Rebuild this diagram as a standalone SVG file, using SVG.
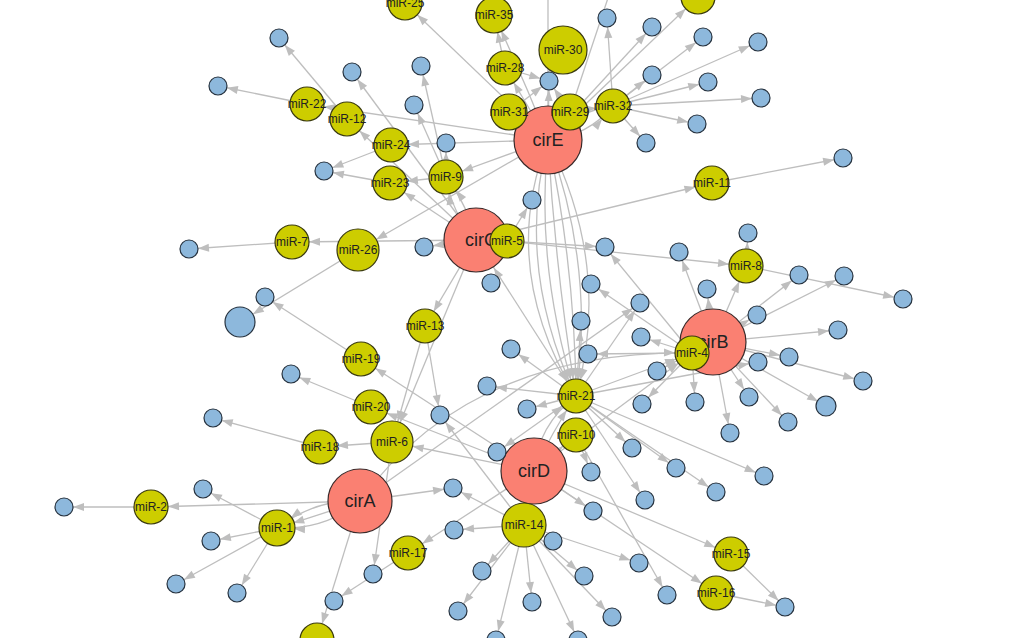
<svg xmlns="http://www.w3.org/2000/svg" width="1022" height="638" viewBox="0 0 1022 638">
<style>
.e{fill:none;stroke:#bebebe;stroke-width:1.3}
.eb{marker-end:url(#aB)}
.ebb{marker-end:url(#aBb)}
.ey{marker-end:url(#aY)}
.ey2{marker-end:url(#aY2)}
.er{marker-end:url(#aR)}
.r circle{fill:#fa8072;stroke:#3a2a2a;stroke-width:1.2}
.y circle{fill:#cdcd00;stroke:#3a3a10;stroke-width:1.2}
.b circle{fill:#8db8dc;stroke:#26323f;stroke-width:1.2}
text{font-family:"Liberation Sans",Arial,sans-serif;fill:#222;text-anchor:middle}
.r text{font-size:18px}
.y text{font-size:12px}
</style>
<defs>
<marker id="aB" markerUnits="userSpaceOnUse" markerWidth="1" markerHeight="1" orient="auto" overflow="visible"><path d="M-20,-4L-9,0L-20,4z" fill="#bebebe"/></marker>
<marker id="aBb" markerUnits="userSpaceOnUse" markerWidth="1" markerHeight="1" orient="auto" overflow="visible"><path d="M-26,-4L-15,0L-26,4z" fill="#bebebe"/></marker>
<marker id="aY" markerUnits="userSpaceOnUse" markerWidth="1" markerHeight="1" orient="auto" overflow="visible"><path d="M-28,-4L-17,0L-28,4z" fill="#bebebe"/></marker>
<marker id="aY2" markerUnits="userSpaceOnUse" markerWidth="1" markerHeight="1" orient="auto" overflow="visible"><path d="M-32,-4L-21,0L-32,4z" fill="#bebebe"/></marker>
<marker id="aR" markerUnits="userSpaceOnUse" markerWidth="1" markerHeight="1" orient="auto" overflow="visible"><path d="M-44,-4L-33,0L-44,4z" fill="#bebebe"/></marker>
</defs>
<g id="connectors" class="e">
<path class="eb" d="M307,104L218,86"/>
<path class="eb" d="M347,119L279,38"/>
<path class="eb" d="M476,240L352,72"/>
<path class="eb" d="M446,177L421,66"/>
<path class="eb" d="M446,177L414,105"/>
<path class="eb" d="M446,177L446,143"/>
<path class="eb" d="M391,145L324,171"/>
<path class="eb" d="M390,183L324,171"/>
<path class="eb" d="M548,140L549,81"/>
<path class="eb" d="M505,68L549,81"/>
<path class="eb" d="M509,112L549,81"/>
<path class="eb" d="M570,112L549,81"/>
<path class="eb" d="M613,106L607,18"/>
<path class="eb" d="M548,140L652,27"/>
<path class="eb" d="M613,106L703,37"/>
<path class="eb" d="M613,106L758,42"/>
<path class="eb" d="M613,106L652,75"/>
<path class="eb" d="M613,106L708,82"/>
<path class="eb" d="M613,106L761,98"/>
<path class="eb" d="M613,106L697,124"/>
<path class="eb" d="M613,106L646,143"/>
<path class="eb" d="M712,183L843,158"/>
<path class="eb" d="M507,241L532,200"/>
<path class="eb" d="M292,242L189,249"/>
<path class="eb" d="M476,240L424,247"/>
<path class="eb" d="M361,359L265,297"/>
<path class="ebb" d="M358,250L240,322"/>
<path class="eb" d="M371,407L291,374"/>
<path class="eb" d="M320,447L213,418"/>
<path class="eb" d="M507,241L605,247"/>
<path class="eb" d="M713,342L679,252"/>
<path class="eb" d="M692,353L605,247"/>
<path class="eb" d="M692,353L591,284"/>
<path class="eb" d="M576,396L640,303"/>
<path class="eb" d="M360,501L640,303"/>
<path class="eb" d="M576,396L581,321"/>
<path class="eb" d="M692,353L641,337"/>
<path class="eb" d="M576,396L511,349"/>
<path class="eb" d="M692,353L588,354"/>
<path class="eb" d="M692,353L657,371"/>
<path class="eb" d="M576,396L487,386"/>
<path class="eb" d="M576,396L527,409"/>
<path class="eb" d="M692,353L642,404"/>
<path class="eb" d="M425,326L440,415"/>
<path class="eb" d="M524,525L440,415"/>
<path class="eb" d="M692,353L695,402"/>
<path class="eb" d="M746,266L748,233"/>
<path class="eb" d="M713,342L707,289"/>
<path class="eb" d="M713,342L799,275"/>
<path class="eb" d="M713,342L844,276"/>
<path class="eb" d="M746,266L903,299"/>
<path class="eb" d="M713,342L757,315"/>
<path class="eb" d="M713,342L838,330"/>
<path class="eb" d="M713,342L789,357"/>
<path class="eb" d="M576,396L758,362"/>
<path class="eb" d="M713,342L863,381"/>
<path class="eb" d="M713,342L749,397"/>
<path class="eb" d="M713,342L826,406"/>
<path class="eb" d="M713,342L788,422"/>
<path class="eb" d="M713,342L730,433"/>
<path class="eb" d="M576,396L676,468"/>
<path class="eb" d="M576,396L764,476"/>
<path class="eb" d="M576,396L716,492"/>
<path class="eb" d="M731,554L785,607"/>
<path class="eb" d="M716,593L785,607"/>
<path class="eb" d="M576,435L667,595"/>
<path class="eb" d="M576,396L497,452"/>
<path class="eb" d="M576,396L632,448"/>
<path class="eb" d="M576,435L591,472"/>
<path class="eb" d="M576,396L645,500"/>
<path class="eb" d="M524,525L453,488"/>
<path class="eb" d="M360,501L453,488"/>
<path class="eb" d="M534,471L593,511"/>
<path class="eb" d="M524,525L454,530"/>
<path class="eb" d="M524,525L553,541"/>
<path class="eb" d="M524,525L639,563"/>
<path class="eb" d="M524,525L482,571"/>
<path class="eb" d="M524,525L584,576"/>
<path class="eb" d="M524,525L458,611"/>
<path class="eb" d="M524,525L532,602"/>
<path class="eb" d="M524,525L612,617"/>
<path class="eb" d="M524,525L496,640"/>
<path class="eb" d="M524,525L578,640"/>
<path class="eb" d="M277,528L203,489"/>
<path class="eb" d="M151,507L64,507"/>
<path class="eb" d="M277,528L211,541"/>
<path class="eb" d="M277,528L176,584"/>
<path class="eb" d="M277,528L237,593"/>
<path class="eb" d="M392,442L373,574"/>
<path class="eb" d="M408,553L334,601"/>
<path class="ey" d="M548,140L509,112"/>
<path class="ey" d="M548,140L570,112"/>
<path class="ey" d="M548,140L505,68"/>
<path class="ey" d="M548,140Q522,75 494,15"/>
<path class="ey" d="M505,68L494,15"/>
<path class="ey" d="M548,140L405,3"/>
<path class="ey" d="M548,140L307,104"/>
<path class="ey" d="M548,140L391,145"/>
<path class="ey" d="M548,140L446,177"/>
<path class="ey2" d="M548,140L358,250"/>
<path class="ey" d="M548,140Q588,136 613,106"/>
<path class="ey" d="M548,140Q578,110 613,106"/>
<path class="ey" d="M548,140L698,-3"/>
<path d="M548,140L548,-20"/>
<path d="M570,112L614,-20"/>
<path class="ey" d="M548,140Q498,268 576,396"/>
<path class="ey" d="M548,140Q515,268 576,396"/>
<path class="ey" d="M548,140Q535,268 576,396"/>
<path class="ey" d="M548,140Q555,268 576,396"/>
<path class="ey" d="M548,140Q575,268 576,396"/>
<path class="ey" d="M548,140Q595,268 576,396"/>
<path class="ey" d="M548,140Q612,268 576,396"/>
<path class="ey" d="M446,177L390,183"/>
<path class="ey" d="M476,240L347,119"/>
<path class="ey" d="M476,240L390,183"/>
<path class="ey" d="M476,240Q452,214 446,177"/>
<path class="ey" d="M476,240Q468,206 446,177"/>
<path class="ey" d="M476,240L292,242"/>
<path class="ey" d="M476,240L712,183"/>
<path class="ey" d="M476,240L425,326"/>
<path class="ey2" d="M476,240L392,442"/>
<path class="ey" d="M507,241L746,266"/>
<path class="ey" d="M713,342L746,266"/>
<path class="ey2" d="M425,326L392,442"/>
<path class="ey" d="M534,471L361,359"/>
<path class="ey" d="M534,471L371,407"/>
<path class="ey2" d="M534,471L392,442"/>
<path class="ey" d="M392,442L320,447"/>
<path class="ey" d="M534,471Q538,425 576,396"/>
<path class="ey" d="M534,471Q552,432 576,396"/>
<path class="ey" d="M534,471L576,435"/>
<path class="ey" d="M534,471L692,353"/>
<path class="ey" d="M576,396L692,353"/>
<path class="ey" d="M360,501Q470,350 692,353"/>
<path class="ey2" d="M534,471L524,525"/>
<path class="ey" d="M534,471L731,554"/>
<path class="ey" d="M534,471L716,593"/>
<path class="ey" d="M534,471L408,553"/>
<path class="ey" d="M360,501L151,507"/>
<path class="ey" d="M360,501Q318,498 277,528"/>
<path class="ey" d="M360,501Q322,514 277,528"/>
<path class="ey" d="M360,501Q326,530 277,528"/>
<path class="ey" d="M360,501L317,640"/>
<path class="er" d="M576,396L476,240"/>
</g>
<g id="cirE" class="r"><circle cx="548" cy="140" r="34"/><text x="548" y="146">cirE</text></g>
<g id="cirC" class="r"><circle cx="476" cy="240" r="32"/><text x="481" y="246">cirC</text></g>
<g id="cirB" class="r"><circle cx="713" cy="342" r="33"/><text x="713" y="348">cirB</text></g>
<g id="cirD" class="r"><circle cx="534" cy="471" r="33"/><text x="534" y="477">cirD</text></g>
<g id="cirA" class="r"><circle cx="360" cy="501" r="32"/><text x="360" y="507">cirA</text></g>
<g id="miR-25" class="y"><circle cx="405" cy="3" r="17"/><text x="405" y="7">miR-25</text></g>
<g id="miR-35" class="y"><circle cx="494" cy="15" r="18"/><text x="494" y="19">miR-35</text></g>
<g id="miR-30" class="y"><circle cx="563" cy="50" r="24"/><text x="563" y="54">miR-30</text></g>
<g id="miR-28" class="y"><circle cx="505" cy="68" r="17"/><text x="505" y="72">miR-28</text></g>
<g id="miR-31" class="y"><circle cx="509" cy="112" r="18"/><text x="509" y="116">miR-31</text></g>
<g id="miR-29" class="y"><circle cx="570" cy="112" r="18"/><text x="570" y="116">miR-29</text></g>
<g id="miR-32" class="y"><circle cx="613" cy="106" r="17"/><text x="613" y="110">miR-32</text></g>
<g id="miR-top" class="y"><circle cx="698" cy="-3" r="17"/></g>
<g id="miR-22" class="y"><circle cx="307" cy="104" r="17"/><text x="307" y="108">miR-22</text></g>
<g id="miR-12" class="y"><circle cx="347" cy="119" r="17"/><text x="347" y="123">miR-12</text></g>
<g id="miR-24" class="y"><circle cx="391" cy="145" r="17"/><text x="391" y="149">miR-24</text></g>
<g id="miR-23" class="y"><circle cx="390" cy="183" r="17"/><text x="390" y="187">miR-23</text></g>
<g id="miR-9" class="y"><circle cx="446" cy="177" r="17"/><text x="446" y="181">miR-9</text></g>
<g id="miR-11" class="y"><circle cx="712" cy="183" r="17"/><text x="712" y="187">miR-11</text></g>
<g id="miR-7" class="y"><circle cx="292" cy="242" r="17"/><text x="292" y="246">miR-7</text></g>
<g id="miR-26" class="y"><circle cx="358" cy="250" r="21"/><text x="358" y="254">miR-26</text></g>
<g id="miR-5" class="y"><circle cx="507" cy="241" r="17"/><text x="507" y="245">miR-5</text></g>
<g id="miR-8" class="y"><circle cx="746" cy="266" r="17"/><text x="746" y="270">miR-8</text></g>
<g id="miR-13" class="y"><circle cx="425" cy="326" r="17"/><text x="425" y="330">miR-13</text></g>
<g id="miR-19" class="y"><circle cx="361" cy="359" r="17"/><text x="361" y="363">miR-19</text></g>
<g id="miR-4" class="y"><circle cx="692" cy="353" r="17"/><text x="692" y="357">miR-4</text></g>
<g id="miR-21" class="y"><circle cx="576" cy="396" r="17"/><text x="576" y="400">miR-21</text></g>
<g id="miR-20" class="y"><circle cx="371" cy="407" r="17"/><text x="371" y="411">miR-20</text></g>
<g id="miR-6" class="y"><circle cx="392" cy="442" r="21"/><text x="392" y="446">miR-6</text></g>
<g id="miR-10" class="y"><circle cx="576" cy="435" r="17"/><text x="576" y="439">miR-10</text></g>
<g id="miR-18" class="y"><circle cx="320" cy="447" r="17"/><text x="320" y="451">miR-18</text></g>
<g id="miR-2" class="y"><circle cx="151" cy="507" r="17"/><text x="151" y="511">miR-2</text></g>
<g id="miR-1" class="y"><circle cx="277" cy="528" r="18"/><text x="277" y="532">miR-1</text></g>
<g id="miR-14" class="y"><circle cx="524" cy="525" r="22"/><text x="524" y="529">miR-14</text></g>
<g id="miR-17" class="y"><circle cx="408" cy="553" r="17"/><text x="408" y="557">miR-17</text></g>
<g id="miR-15" class="y"><circle cx="731" cy="554" r="17"/><text x="731" y="558">miR-15</text></g>
<g id="miR-16" class="y"><circle cx="716" cy="593" r="17"/><text x="716" y="597">miR-16</text></g>
<g id="miR-bottom" class="y"><circle cx="317" cy="640" r="17"/></g>
<g id="mrna" class="b">
<circle id="b01" cx="279" cy="38" r="9"/><circle id="b02" cx="218" cy="86" r="9"/><circle id="b03" cx="352" cy="72" r="9"/><circle id="b04" cx="421" cy="66" r="9"/>
<circle id="b05" cx="414" cy="105" r="9"/><circle id="b06" cx="446" cy="143" r="9"/><circle id="b07" cx="324" cy="171" r="9"/><circle id="b08" cx="549" cy="81" r="9"/>
<circle id="b09" cx="607" cy="18" r="9"/><circle id="b10" cx="652" cy="27" r="9"/><circle id="b11" cx="703" cy="37" r="9"/><circle id="b12" cx="758" cy="42" r="9"/>
<circle id="b13" cx="652" cy="75" r="9"/><circle id="b14" cx="708" cy="82" r="9"/><circle id="b15" cx="761" cy="98" r="9"/><circle id="b16" cx="697" cy="124" r="9"/>
<circle id="b17" cx="646" cy="143" r="9"/><circle id="b18" cx="843" cy="158" r="9"/><circle id="b19" cx="532" cy="200" r="9"/><circle id="b20" cx="189" cy="249" r="9"/>
<circle id="b21" cx="424" cy="247" r="9"/><circle id="b22" cx="265" cy="297" r="9"/><circle id="b23" cx="240" cy="322" r="15"/><circle id="b24" cx="291" cy="374" r="9"/>
<circle id="b25" cx="213" cy="418" r="9"/><circle id="b26" cx="491" cy="283" r="9"/><circle id="b27" cx="605" cy="247" r="9"/><circle id="b28" cx="679" cy="252" r="9"/>
<circle id="b29" cx="591" cy="284" r="9"/><circle id="b30" cx="640" cy="303" r="9"/><circle id="b31" cx="581" cy="321" r="9"/><circle id="b32" cx="641" cy="337" r="9"/>
<circle id="b33" cx="511" cy="349" r="9"/><circle id="b34" cx="588" cy="354" r="9"/><circle id="b35" cx="657" cy="371" r="9"/><circle id="b36" cx="487" cy="386" r="9"/>
<circle id="b37" cx="527" cy="409" r="9"/><circle id="b38" cx="642" cy="404" r="9"/><circle id="b39" cx="440" cy="415" r="9"/><circle id="b40" cx="695" cy="402" r="9"/>
<circle id="b41" cx="748" cy="233" r="9"/><circle id="b42" cx="707" cy="289" r="9"/><circle id="b43" cx="799" cy="275" r="9"/><circle id="b44" cx="844" cy="276" r="9"/>
<circle id="b45" cx="903" cy="299" r="9"/><circle id="b46" cx="757" cy="315" r="9"/><circle id="b47" cx="838" cy="330" r="9"/><circle id="b48" cx="789" cy="357" r="9"/>
<circle id="b49" cx="758" cy="362" r="9"/><circle id="b50" cx="863" cy="381" r="9"/><circle id="b51" cx="749" cy="397" r="9"/><circle id="b52" cx="826" cy="406" r="10"/>
<circle id="b53" cx="788" cy="422" r="9"/><circle id="b54" cx="730" cy="433" r="9"/><circle id="b55" cx="676" cy="468" r="9"/><circle id="b56" cx="764" cy="476" r="9"/>
<circle id="b57" cx="716" cy="492" r="9"/><circle id="b58" cx="785" cy="607" r="9"/><circle id="b59" cx="667" cy="595" r="9"/><circle id="b60" cx="497" cy="452" r="9"/>
<circle id="b61" cx="632" cy="448" r="9"/><circle id="b62" cx="591" cy="472" r="9"/><circle id="b63" cx="645" cy="500" r="9"/><circle id="b64" cx="453" cy="488" r="9"/>
<circle id="b65" cx="593" cy="511" r="9"/><circle id="b66" cx="454" cy="530" r="9"/><circle id="b67" cx="553" cy="541" r="9"/><circle id="b68" cx="639" cy="563" r="9"/>
<circle id="b69" cx="482" cy="571" r="9"/><circle id="b70" cx="584" cy="576" r="9"/><circle id="b71" cx="458" cy="611" r="9"/><circle id="b72" cx="532" cy="602" r="9"/>
<circle id="b73" cx="612" cy="617" r="9"/><circle id="b74" cx="496" cy="640" r="9"/><circle id="b75" cx="578" cy="640" r="9"/><circle id="b76" cx="203" cy="489" r="9"/>
<circle id="b77" cx="64" cy="507" r="9"/><circle id="b78" cx="211" cy="541" r="9"/><circle id="b79" cx="176" cy="584" r="9"/><circle id="b80" cx="237" cy="593" r="9"/>
<circle id="b81" cx="373" cy="574" r="9"/><circle id="b82" cx="334" cy="601" r="9"/>
</g>
</svg>
